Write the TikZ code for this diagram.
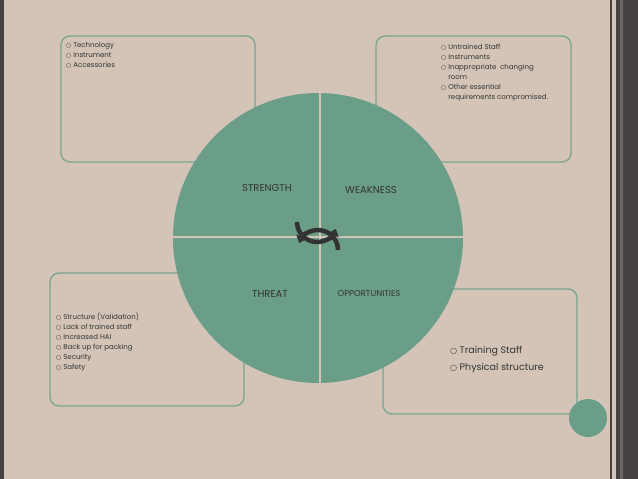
\documentclass[tikz,border=0pt]{standalone}
\usepackage{fontspec}
\setmainfont{Poppins}
\newfontfamily\symf{DejaVu Sans}
\usetikzlibrary{arrows.meta}
\definecolor{bg}{HTML}{D3C4B7}
\definecolor{grn}{HTML}{6A9E89}
\definecolor{bx}{HTML}{78A590}
\definecolor{dk}{HTML}{464241}
\definecolor{txt}{HTML}{333333}
\newcommand{\bl}{{\symf\fontsize{6}{6}\selectfont ○}}
\tikzset{box/.style={draw=bx,line width=1.3pt,rounded corners=9pt},
 lst/.style={anchor=north west,inner sep=0pt,font=\fontsize{7}{10}\selectfont,text=txt,align=left},
 quad/.style={font=\fontsize{10}{12}\selectfont,text=txt}}
\begin{document}
\begin{tikzpicture}[x=1pt,y=-1pt]
\fill[bg] (0,0) rectangle (638,479);
\useasboundingbox (0,0) rectangle (638,479);
\fill[dk] (0,0) rectangle (4,479);
\fill[dk] (610,0) rectangle (612,479);
\fill[dk] (616,0) rectangle (638,479);
\fill[gray!60!dk] (620,0) rectangle (623,479);
% boxes
\draw[box] (61,36) rectangle (255,162);
\draw[box] (376,36) rectangle (571,162);
\draw[box] (50,273) rectangle (244,406);
\draw[box] (383,289) rectangle (577,414);
\fill[grn] (588,418) circle (19);
% circle
\fill[grn] (318,238) circle (145);
\draw[bg,line width=2.5pt] (320,93)--(320,392) (172,237)--(464,237);
\node[quad] (s) at (267,188) {STRENGTH};
\node[quad] (w) at (371,190) {WEAKNESS};
\node[quad] (t) at (270,294) {THREAT};
\node[quad,font=\fontsize{8.5}{10}\selectfont] (o) at (369,294) {OPPORTUNITIES};
\draw[txt,line width=4.5pt,-{Triangle[length=7pt,width=11pt]}] (297,222) arc[start angle=180,end angle=20,radius=20];
\draw[txt,line width=4.5pt,-{Triangle[length=7pt,width=11pt]}] (338,250) arc[start angle=0,end angle=-160,radius=20];
% lists
\node[lst] (l1) at (66,42) {\bl\ Technology\\\bl\ Instrument\\\bl\ Accessories};
\node[lst] (l2) at (441,42) {\begin{tabular}{@{}l@{\ }l@{}}\bl & Untrained Staff\\ \bl & Instruments\\ \bl & Inappropriate \ changing\\ & room\\ \bl & Other essential\\ & requirements compromised.\end{tabular}};
\node[lst] (l3) at (56,313) {\bl\ Structure (Validation)\\\bl\ Lack of trained staff\\\bl\ Increased HAI\\\bl\ Back up for packing\\\bl\ Security\\\bl\ Safety};
\node[lst,font=\fontsize{9.5}{17}\selectfont] (l4) at (450,346) {{\symf\fontsize{8}{8}\selectfont ○}\ Training Staff\\{\symf\fontsize{8}{8}\selectfont ○}\ Physical structure};
\end{tikzpicture}
\end{document}
